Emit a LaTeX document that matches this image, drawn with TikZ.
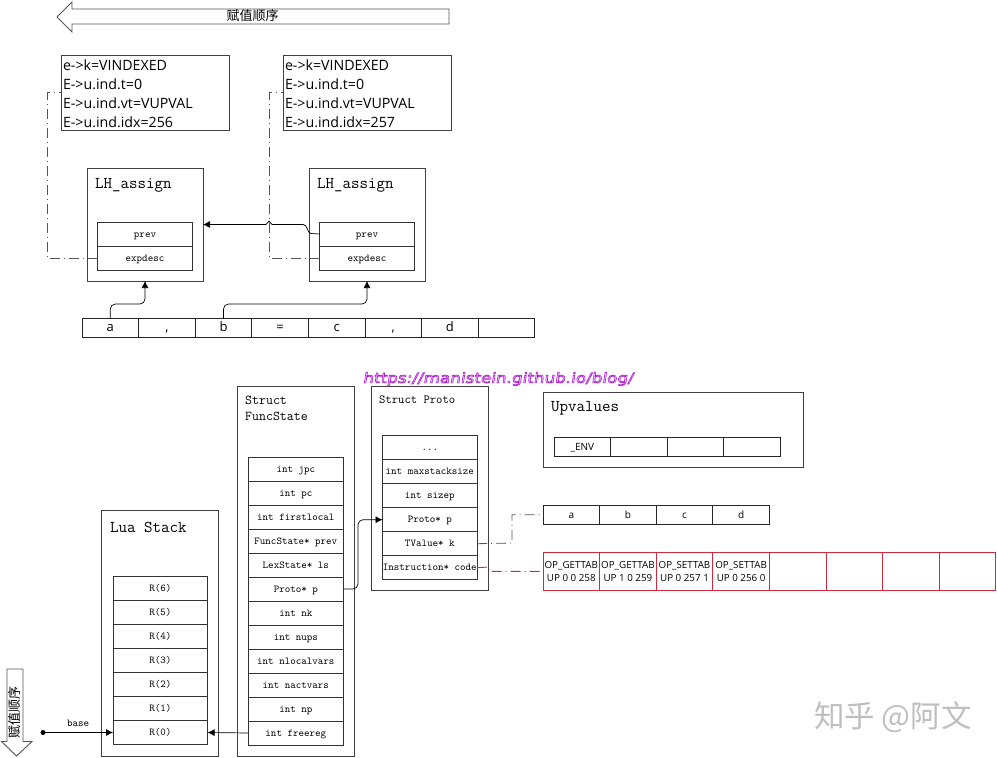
\documentclass[tikz,border=0pt]{standalone}
\usepackage{fontspec}
\setsansfont{Open Sans}
\newfontfamily\cjkfont{Noto Sans CJK SC}
\newfontfamily\urlfont[FakeBold=4.5,FakeSlant=0.15,FakeStretch=1.2]{DejaVu Sans}
\usetikzlibrary{positioning,arrows.meta}
\definecolor{linegray}{HTML}{555555}
\definecolor{opred}{HTML}{D0283C}
\definecolor{urlpurple}{HTML}{B020D0}
\tikzset{
	structbox/.style={draw=black!75,line width=1pt,inner sep=0pt,outer sep=0pt},
	fieldcell/.style={draw=black!80,line width=1pt,minimum width=94.5pt,minimum height=24pt,inner sep=0pt,outer sep=0pt,text height=7pt,text depth=1pt,font=\ttfamily\fontsize{10.5}{12}\selectfont},
	tokencell/.style={draw=black!85,line width=0.9pt,minimum width=56.6pt,minimum height=19pt,inner sep=0pt,outer sep=0pt,text height=9pt,text depth=2pt,font=\sffamily\fontsize{13}{14}\selectfont},
	smallcell/.style={tokencell,font=\sffamily\fontsize{10}{12}\selectfont},
	opcell/.style={draw=opred,line width=0.9pt,minimum width=56.6pt,minimum height=37.5pt,inner sep=0pt,outer sep=0pt,align=center,font=\sffamily\fontsize{9.8}{13}\selectfont},
	infobox/.style={structbox,minimum width=168pt,minimum height=75pt,text width=164pt,align=left,font=\sffamily\fontsize{14.2}{19.2}\selectfont},
	bigtitle/.style={anchor=west,inner sep=0pt,font=\ttfamily\fontsize{16.5}{18}\selectfont},
	smalltitle/.style={anchor=west,inner sep=0pt,align=left,font=\ttfamily\fontsize{13.5}{16}\selectfont},
	orderlabel/.style={inner sep=0pt,font=\cjkfont\fontsize{13}{13}\selectfont},
	dashline/.style={linegray,line width=0.8pt,dash pattern=on 10pt off 4pt on 1pt off 4pt},
	reddash/.style={opred,line width=0.9pt,dash pattern=on 10pt off 4pt on 1pt off 4pt},
}
\begin{document}
\begin{tikzpicture}[x=1pt,y=-1pt,>={Latex[length=7pt,width=7pt]},rounded corners=0pt]
	\useasboundingbox (0,0) rectangle (997,758);
	% order arrows
	\draw [linegray,line width=0.9pt] (449,9) -- (72,9) -- (72,2) -- (57,17) -- (72,32) -- (72,24) -- (449,24) -- cycle;
	\node [orderlabel] (ordertop) at (252.5,16) {赋值顺序};
	\draw [linegray,line width=0.9pt] (7,669) -- (23,669) -- (23,741.5) -- (32,741.5) -- (16.5,756) -- (1.5,741.5) -- (7,741.5) -- cycle;
	\node [orderlabel,rotate=90] (orderleft) at (15,712) {赋值顺序};
	% upper part
	\node [infobox] (info1) at (145,92.5) {\rule{0pt}{13pt}e->k=VINDEXED\\E->u.ind.t=0\\E->u.ind.vt=VUPVAL\\E->u.ind.idx=256};
	\node [infobox] (info2) at (367,92.5) {\rule{0pt}{13pt}e->k=VINDEXED\\E->u.ind.t=0\\E->u.ind.vt=VUPVAL\\E->u.ind.idx=257};
	\node [structbox,minimum width=116pt,minimum height=113pt] (assign1) at (145,224.5) {};
	\node [structbox,minimum width=116pt,minimum height=113pt] (assign2) at (367,224.5) {};
	\node [bigtitle] (assigntitle1) at (95,185) {LH\_assign};
	\node [bigtitle] (assigntitle2) at (317,185) {LH\_assign};
	\node [fieldcell] (prev1) at (145,234) {prev};
	\node [fieldcell,below=0pt of prev1] (expdesc1) {expdesc};
	\node [fieldcell] (prev2) at (367,234) {prev};
	\node [fieldcell,below=0pt of prev2] (expdesc2) {expdesc};
	\node [tokencell] (tok1) at (110.3,327.7) {a};
	\node [tokencell,right=0pt of tok1] (tok2) {,};
	\node [tokencell,right=0pt of tok2] (tok3) {b};
	\node [tokencell,right=0pt of tok3] (tok4) {=};
	\node [tokencell,right=0pt of tok4] (tok5) {c};
	\node [tokencell,right=0pt of tok5] (tok6) {,};
	\node [tokencell,right=0pt of tok6] (tok7) {d};
	\node [tokencell,right=0pt of tok7] (tok8) {};
	\draw [dashline] (expdesc1.west) -- (47,258) |- (info1.west);
	\draw [dashline] (expdesc2.west) -- (269,258) |- (info2.west);
	\draw [->,line width=0.7pt,rounded corners=5pt] (tok1.north) -- (110.3,304) -| (assign1.south);
	\draw [->,line width=0.7pt,rounded corners=5pt] (tok3.north) -- (223.5,304) -| (assign2.south);
	\draw [->,line width=0.7pt] (prev2.west) -- (311,233.5) .. controls (307,233.5) and (308,224.5) .. (303,224.5) -- (272,224.5) .. controls (270,224.5) and (270.5,221) .. (269,221) .. controls (267.5,221) and (268,224.5) .. (266,224.5) -- (assign1.east);
	% lua stack
	\node [structbox,minimum width=117pt,minimum height=245.5pt] (stack) at (160,633.3) {};
	\node [bigtitle] (stacktitle) at (110,527.5) {Lua Stack};
	\node [fieldcell] (r6) at (160.3,588.5) {R(6)};
	\node [fieldcell,below=0pt of r6] (r5) {R(5)};
	\node [fieldcell,below=0pt of r5] (r4) {R(4)};
	\node [fieldcell,below=0pt of r4] (r3) {R(3)};
	\node [fieldcell,below=0pt of r3] (r2) {R(2)};
	\node [fieldcell,below=0pt of r2] (r1) {R(1)};
	\node [fieldcell,below=0pt of r1] (r0) {R(0)};
	% func state
	\node [structbox,minimum width=117pt,minimum height=370pt] (func) at (296,571) {};
	\node [smalltitle] (functitle) at (245,408) {Struct\\FuncState};
	\node [fieldcell] (jpc) at (295.8,469) {int jpc};
	\node [fieldcell,below=0pt of jpc] (pc) {int pc};
	\node [fieldcell,below=0pt of pc] (firstlocal) {int firstlocal};
	\node [fieldcell,below=0pt of firstlocal] (prevfs) {FuncState* prev};
	\node [fieldcell,below=0pt of prevfs] (ls) {LexState* ls};
	\node [fieldcell,below=0pt of ls] (fsproto) {Proto* p};
	\node [fieldcell,below=0pt of fsproto] (nk) {int nk};
	\node [fieldcell,below=0pt of nk] (nups) {int nups};
	\node [fieldcell,below=0pt of nups] (nlocalvars) {int nlocalvars};
	\node [fieldcell,below=0pt of nlocalvars] (nactvars) {int nactvars};
	\node [fieldcell,below=0pt of nactvars] (np) {int np};
	\node [fieldcell,below=0pt of np] (freereg) {int freereg};
	% proto
	\node [structbox,minimum width=117pt,minimum height=204pt] (proto) at (430,488) {};
	\node [smalltitle,font=\ttfamily\fontsize{12.3}{14}\selectfont] (prototitle) at (379,400) {Struct Proto};
	\node [fieldcell] (dots) at (429.8,447.7) {...};
	\node [fieldcell,below=0pt of dots] (maxstack) {int maxstacksize};
	\node [fieldcell,below=0pt of maxstack] (sizep) {int sizep};
	\node [fieldcell,below=0pt of sizep] (protop) {Proto* p};
	\node [fieldcell,below=0pt of protop] (protok) {TValue* k};
	\node [fieldcell,below=0pt of protok] (code) {Instruction* code};
	% upvalues
	\node [structbox,minimum width=260pt,minimum height=75pt] (upvalues) at (673,429.5) {};
	\node [bigtitle] (upvaluestitle) at (551,408.5) {Upvalues};
	\node [smallcell] (env) at (582.3,446.5) {\_ENV};
	\node [smallcell,right=0pt of env] (up2) {};
	\node [smallcell,right=0pt of up2] (up3) {};
	\node [smallcell,right=0pt of up3] (up4) {};
	% constants
	\node [smallcell] (ka) at (571.3,514.7) {a};
	\node [smallcell,right=0pt of ka] (kb) {b};
	\node [smallcell,right=0pt of kb] (kc) {c};
	\node [smallcell,right=0pt of kc] (kd) {d};
	% instructions
	\node [opcell] (op1) at (571.3,571.3) {OP\_GETTAB\\UP 0 0 258};
	\node [opcell,right=0pt of op1] (op2) {OP\_GETTAB\\UP 1 0 259};
	\node [opcell,right=0pt of op2] (op3) {OP\_SETTAB\\UP 0 257 1};
	\node [opcell,right=0pt of op3] (op4) {OP\_SETTAB\\UP 0 256 0};
	\node [opcell,right=0pt of op4] (op5) {};
	\node [opcell,right=0pt of op5] (op6) {};
	\node [opcell,right=0pt of op6] (op7) {};
	\node [opcell,right=0pt of op7] (op8) {};
	% connectors
	\coordinate (basedot) at (43,732.5);
	\fill (basedot) circle (2.5pt);
	\draw [->,line width=0.7pt] (basedot) -- node [above=5pt,inner sep=1pt,font=\ttfamily\fontsize{10.5}{12}\selectfont] (baselabel) {base} (r0.west);
	\draw [->,line width=0.7pt] (freereg.west) -- (r0.east);
	\draw [->,line width=0.7pt,rounded corners=5pt] (fsproto.east) -- (358,589) |- (protop.west);
	\draw [dashline] (protok.east) -- (512,543) |- (ka.west);
	\draw [reddash] (code.east) -- (489,567) |- (op1.west);
	% watermarks
	\node [inner sep=0pt,text=urlpurple,font=\urlfont\fontsize{14}{15}\selectfont] (urlmark) at (498,379) {\special{pdf:code 0.95 0.8 1 rg}https://manistein.github.io/blog/};
	\node [inner sep=0pt,text=black!25,font=\cjkfont\fontsize{30.5}{32}\selectfont] (zhihumark) at (893,717) {知乎 @阿文};
\end{tikzpicture}
\end{document}
